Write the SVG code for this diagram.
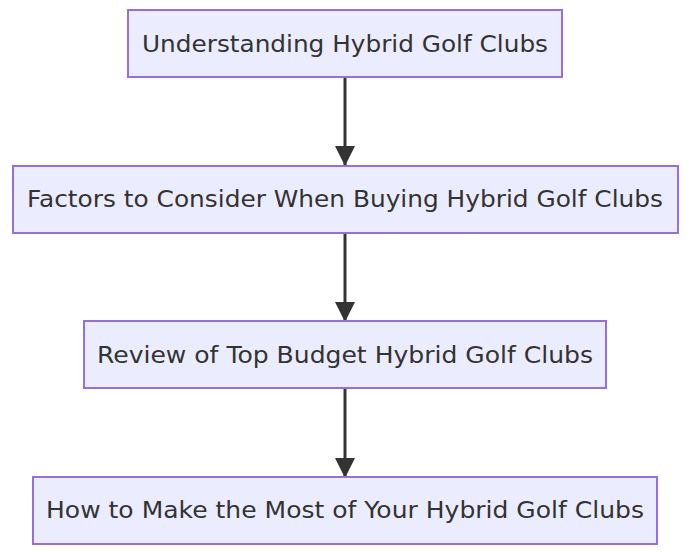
<svg xmlns="http://www.w3.org/2000/svg" width="687" height="552" viewBox="0 0 687 552">
<style>
.n rect{fill:#ececff;stroke:#9370db;stroke-width:2}
.n text{font-family:"DejaVu Sans","Liberation Sans",sans-serif;font-size:23px;fill:#333;text-anchor:middle;dominant-baseline:central}
.e path{stroke:#333;stroke-width:3;fill:none}
</style>
<defs><marker id="a" markerWidth="10" markerHeight="10" refX="9" refY="5" orient="auto" markerUnits="userSpaceOnUse" viewBox="0 0 10 10"><path d="M0,0L10,5L0,10z" fill="#333" transform="scale(1)"/></marker>
<marker id="b" viewBox="0 0 20 20" refX="19" refY="10" markerWidth="20" markerHeight="22" orient="auto" markerUnits="userSpaceOnUse"><path d="M0,0L20,10L0,20z" fill="#333"/></marker></defs>
<rect width="687" height="552" fill="#fff"/>
<g class="e">
<path d="M345,77V165" marker-end="url(#b)"/>
<path d="M345,233V321" marker-end="url(#b)"/>
<path d="M345,388V477" marker-end="url(#b)"/>
</g>
<g id="n1" class="n"><rect x="128" y="10" width="434" height="67"/><text x="345" y="44" textLength="406" lengthAdjust="spacingAndGlyphs">Understanding Hybrid Golf Clubs</text></g>
<g id="n2" class="n"><rect x="13" y="166" width="665" height="67"/><text x="345" y="199" textLength="636" lengthAdjust="spacingAndGlyphs">Factors to Consider When Buying Hybrid Golf Clubs</text></g>
<g id="n3" class="n"><rect x="84" y="321" width="522" height="67"/><text x="345" y="355" textLength="496" lengthAdjust="spacingAndGlyphs">Review of Top Budget Hybrid Golf Clubs</text></g>
<g id="n4" class="n"><rect x="33" y="477" width="624" height="67"/><text x="345" y="510" textLength="598" lengthAdjust="spacingAndGlyphs">How to Make the Most of Your Hybrid Golf Clubs</text></g>
</svg>
